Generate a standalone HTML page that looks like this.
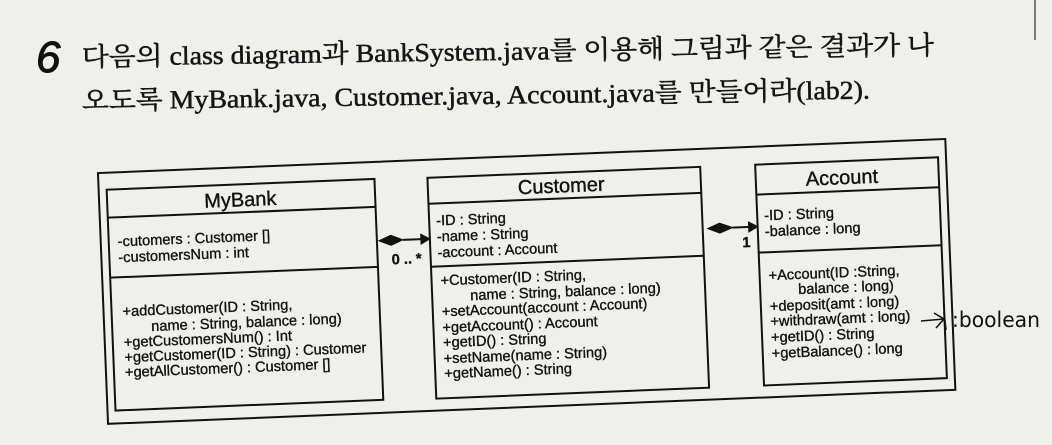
<!DOCTYPE html>
<html><head><meta charset="utf-8"><style>
html,body{margin:0;padding:0;background:#efefec;}
svg{display:block;}
.t{font-family:"Liberation Sans","DejaVu Sans",sans-serif;font-size:14.6px;fill:#111;stroke:#111;stroke-width:0.35;}
.h{font-family:"Liberation Sans",sans-serif;font-size:20px;fill:#111;stroke:#111;stroke-width:0.4;}
.k{font-family:"Liberation Serif","Noto Serif CJK SC","Noto Sans CJK KR",serif;font-size:26px;fill:#151515;stroke:#151515;stroke-width:0.5;}
</style></head><body>
<svg width="1052" height="445" viewBox="0 0 1052 445" xmlns="http://www.w3.org/2000/svg">
<rect width="1052" height="445" fill="#efefec"/>
<line x1="1035" y1="0" x2="1035" y2="40" stroke="#555" stroke-width="1.5"/>
<text x="36" y="72" font-family="Liberation Sans,sans-serif" font-size="44" font-style="italic" fill="#111" stroke="#111" stroke-width="1">6</text>
<text class="k" x="82" y="60" textLength="852" lengthAdjust="spacingAndGlyphs" transform="rotate(-0.8,500,60)">다음의 class diagram과 BankSystem.java를 이용해 그림과 같은 결과가 나</text>
<text class="k" x="82" y="104" textLength="788" lengthAdjust="spacingAndGlyphs" transform="rotate(-0.8,480,104)">오도록 MyBank.java, Customer.java, Account.java를 만들어라(lab2).</text>

<g transform="rotate(-2.3,525,290)" stroke="#111" fill="none">
<rect x="103" y="156" width="848" height="251" stroke-width="2"/>
<rect x="111" y="173" width="268" height="221" stroke-width="2"/>
<line x1="111" y1="201" x2="379" y2="201" stroke-width="2"/>
<line x1="111" y1="261" x2="379" y2="261" stroke-width="2"/>
<rect x="432" y="174" width="273" height="221" stroke-width="2"/>
<line x1="432" y1="200" x2="705" y2="200" stroke-width="2"/>
<line x1="432" y1="263" x2="705" y2="263" stroke-width="2"/>
<rect x="760" y="174" width="183" height="221" stroke-width="2"/>
<line x1="760" y1="204" x2="943" y2="204" stroke-width="2"/>
<line x1="760" y1="262" x2="943" y2="262" stroke-width="2"/>
<line x1="405" y1="235" x2="424" y2="235" stroke-width="2"/>
<polygon points="381,235 393,230 405,235 393,240" fill="#111"/>
<polygon points="432,235 423,230 423,240" fill="#111"/>
<line x1="735" y1="236" x2="752" y2="236" stroke-width="2"/>
<polygon points="710,236 722,231 735,236 722,241" fill="#111"/>
<polygon points="760,236 751,231 751,241" fill="#111"/>
</g>
<g transform="rotate(-2.3,525,290)">
<text class="t" x="393" y="259" font-weight="bold">0 .. *</text>
<text class="t" x="744" y="256" font-weight="bold">1</text>
<text class="h" x="208" y="195">MyBank</text>
<text class="t" x="120" y="230">-cutomers : Customer []</text>
<text class="t" x="120" y="246">-customersNum : int</text>
<text class="t" x="122" y="300">+addCustomer(ID : String,</text>
<text class="t" x="150" y="316">name : String, balance : long)</text>
<text class="t" x="122" y="331">+getCustomersNum() : Int</text>
<text class="t" x="122" y="346">+getCustomer(ID : String) : Customer</text>
<text class="t" x="122" y="361">+getAllCustomer() : Customer []</text>

<text class="h" x="522" y="194">Customer</text>
<text class="t" x="439" y="222">-ID : String</text>
<text class="t" x="439" y="238">-name : String</text>
<text class="t" x="439" y="254">-account : Account</text>
<text class="t" x="441" y="282">+Customer(ID : String,</text>
<text class="t" x="470" y="298">name : String, balance : long)</text>
<text class="t" x="441" y="313">+setAccount(account : Account)</text>
<text class="t" x="441" y="329">+getAccount() : Account</text>
<text class="t" x="441" y="344">+getID() : String</text>
<text class="t" x="441" y="360">+setName(name : String)</text>
<text class="t" x="441" y="375">+getName() : String</text>

<text class="h" x="810" y="197">Account</text>
<text class="t" x="767" y="230">-ID : String</text>
<text class="t" x="767" y="246">-balance : long</text>
<text class="t" x="769" y="290">+Account(ID :String,</text>
<text class="t" x="798" y="305">balance : long)</text>
<text class="t" x="769" y="321">+deposit(amt : long)</text>
<text class="t" x="769" y="336">+withdraw(amt : long)</text>
<text class="t" x="769" y="352">+getID() : String</text>
<text class="t" x="769" y="368">+getBalance() : long</text>
</g>
<g stroke="#111" stroke-width="1.6" fill="none">
<line x1="921" y1="321" x2="944" y2="319"/>
<polyline points="934,313 944,319 936,328"/>
<line x1="944" y1="312" x2="946" y2="330"/>
</g>
<text x="952" y="327" font-family="DejaVu Sans,sans-serif" font-size="21" fill="#111" textLength="88" lengthAdjust="spacingAndGlyphs">:boolean</text>
</svg>
</body></html>
